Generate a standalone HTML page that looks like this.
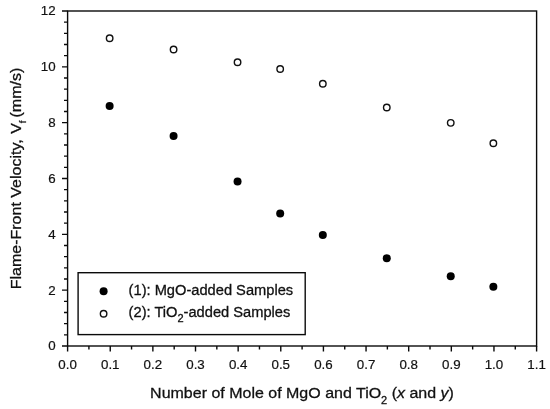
<!DOCTYPE html>
<html><head><meta charset="utf-8"><title>Flame-Front Velocity</title>
<style>
html,body{margin:0;padding:0;background:#fff;}
svg{display:block;font-family:"Liberation Sans",Arial,sans-serif;fill:#111;}
text{stroke:#111;stroke-width:0.3px;}
.ax{stroke:#0a0a0a;stroke-width:1.4;fill:none;}
.tk{font-size:13.33px;stroke-width:0.2px;}
.ti{font-size:16px;}
.lg{font-size:14.67px;}
.sub{font-size:11px;}
</style></head><body>
<svg width="550" height="409" viewBox="0 0 550 409">
<rect width="550" height="409" fill="#fff"/>
<rect class="ax" x="67.6" y="11.0" width="469.0" height="335.0"/>
<path class="ax" d="M62.00 346.00H67.6M64.00 334.83H67.6M64.00 323.67H67.6M64.00 312.50H67.6M64.00 301.33H67.6M62.00 290.17H67.6M64.00 279.00H67.6M64.00 267.83H67.6M64.00 256.67H67.6M64.00 245.50H67.6M62.00 234.33H67.6M64.00 223.17H67.6M64.00 212.00H67.6M64.00 200.83H67.6M64.00 189.67H67.6M62.00 178.50H67.6M64.00 167.33H67.6M64.00 156.17H67.6M64.00 145.00H67.6M64.00 133.83H67.6M62.00 122.67H67.6M64.00 111.50H67.6M64.00 100.33H67.6M64.00 89.17H67.6M64.00 78.00H67.6M62.00 66.83H67.6M64.00 55.67H67.6M64.00 44.50H67.6M64.00 33.33H67.6M64.00 22.17H67.6M62.00 11.00H67.6M67.60 346.0V351.40M88.92 346.0V349.40M110.24 346.0V351.40M131.55 346.0V349.40M152.87 346.0V351.40M174.19 346.0V349.40M195.51 346.0V351.40M216.83 346.0V349.40M238.15 346.0V351.40M259.46 346.0V349.40M280.78 346.0V351.40M302.10 346.0V349.40M323.42 346.0V351.40M344.74 346.0V349.40M366.05 346.0V351.40M387.37 346.0V349.40M408.69 346.0V351.40M430.01 346.0V349.40M451.33 346.0V351.40M472.65 346.0V349.40M493.96 346.0V351.40M515.28 346.0V349.40M536.60 346.0V351.40"/>
<text class="tk" x="55.7" y="350.40" text-anchor="end">0</text>
<text class="tk" x="55.7" y="294.57" text-anchor="end">2</text>
<text class="tk" x="55.7" y="238.73" text-anchor="end">4</text>
<text class="tk" x="55.7" y="182.90" text-anchor="end">6</text>
<text class="tk" x="55.7" y="127.07" text-anchor="end">8</text>
<text class="tk" x="55.7" y="71.23" text-anchor="end">10</text>
<text class="tk" x="55.7" y="15.40" text-anchor="end">12</text>
<text class="tk" x="67.60" y="369.2" text-anchor="middle">0.0</text>
<text class="tk" x="110.24" y="369.2" text-anchor="middle">0.1</text>
<text class="tk" x="152.87" y="369.2" text-anchor="middle">0.2</text>
<text class="tk" x="195.51" y="369.2" text-anchor="middle">0.3</text>
<text class="tk" x="238.15" y="369.2" text-anchor="middle">0.4</text>
<text class="tk" x="280.78" y="369.2" text-anchor="middle">0.5</text>
<text class="tk" x="323.42" y="369.2" text-anchor="middle">0.6</text>
<text class="tk" x="366.05" y="369.2" text-anchor="middle">0.7</text>
<text class="tk" x="408.69" y="369.2" text-anchor="middle">0.8</text>
<text class="tk" x="451.33" y="369.2" text-anchor="middle">0.9</text>
<text class="tk" x="493.96" y="369.2" text-anchor="middle">1.0</text>
<text class="tk" x="536.60" y="369.2" text-anchor="middle">1.1</text>
<circle cx="109.64" cy="38.28" r="3.25" fill="#fff" stroke="#111" stroke-width="1.4"/>
<circle cx="173.59" cy="49.45" r="3.25" fill="#fff" stroke="#111" stroke-width="1.4"/>
<circle cx="237.55" cy="62.29" r="3.25" fill="#fff" stroke="#111" stroke-width="1.4"/>
<circle cx="280.18" cy="68.99" r="3.25" fill="#fff" stroke="#111" stroke-width="1.4"/>
<circle cx="322.82" cy="83.78" r="3.25" fill="#fff" stroke="#111" stroke-width="1.4"/>
<circle cx="386.77" cy="107.51" r="3.25" fill="#fff" stroke="#111" stroke-width="1.4"/>
<circle cx="450.73" cy="122.87" r="3.25" fill="#fff" stroke="#111" stroke-width="1.4"/>
<circle cx="493.36" cy="143.25" r="3.25" fill="#fff" stroke="#111" stroke-width="1.4"/>
<circle cx="109.64" cy="106.12" r="4.0" fill="#000"/>
<circle cx="173.59" cy="135.99" r="4.0" fill="#000"/>
<circle cx="237.55" cy="181.49" r="4.0" fill="#000"/>
<circle cx="280.18" cy="213.60" r="4.0" fill="#000"/>
<circle cx="322.82" cy="235.09" r="4.0" fill="#000"/>
<circle cx="386.77" cy="258.26" r="4.0" fill="#000"/>
<circle cx="450.73" cy="276.13" r="4.0" fill="#000"/>
<circle cx="493.36" cy="286.74" r="4.0" fill="#000"/>
<rect class="ax" x="78.1" y="272.7" width="227.1" height="61.9" fill="#fff"/>
<circle cx="103.6" cy="291.2" r="4.0" fill="#000"/>
<circle cx="103.6" cy="313.7" r="3.25" fill="#fff" stroke="#111" stroke-width="1.4"/>
<text class="lg" x="128.6" y="294.7">(1): MgO-added Samples</text>
<text class="lg" x="128.6" y="316.8">(2): TiO<tspan class="sub" dy="5">2</tspan><tspan dy="-5">-added Samples</tspan></text>
<text class="ti" transform="translate(302 397.7) scale(1 0.93)" text-anchor="middle">Number of Mole of MgO and TiO<tspan class="sub" dy="6.5">2</tspan><tspan dy="-6.5"> (</tspan><tspan font-style="italic">x</tspan> and <tspan font-style="italic">y</tspan>)</text>
<text class="ti" transform="translate(21.1 178.5) rotate(-90) scale(1 0.95)" text-anchor="middle">Flame-Front Velocity, <tspan dx="1.1">V</tspan><tspan class="sub" style="font-size:9.5px" dy="5">f</tspan><tspan dy="-5" dx="-1.4"> (mm/s)</tspan></text>
</svg></body></html>
